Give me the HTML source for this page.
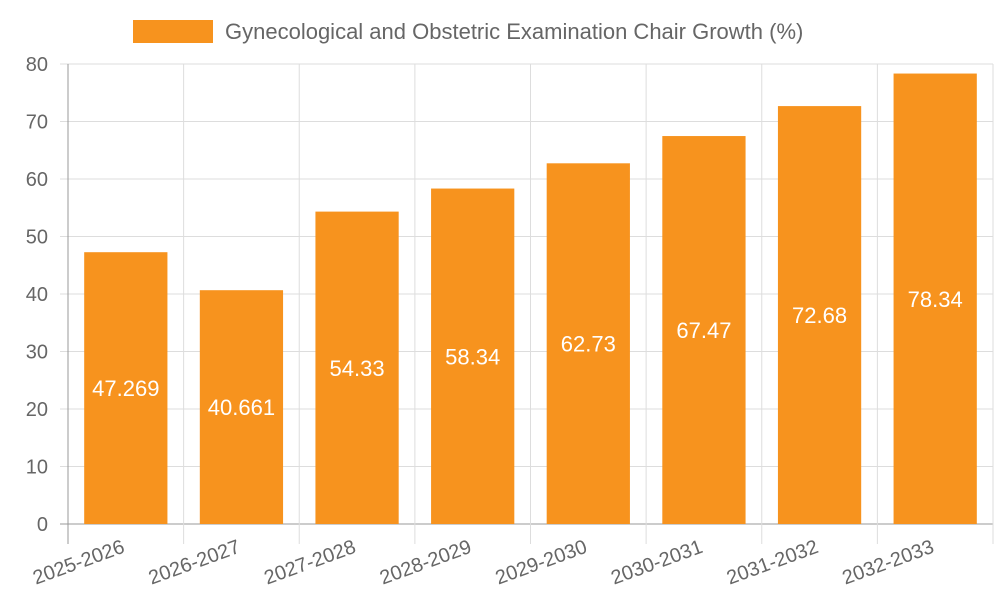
<!DOCTYPE html>
<html><head><meta charset="utf-8"><style>
body{margin:0;background:#fff;}
svg{display:block;font-family:"Liberation Sans",sans-serif;}
</style></head><body>
<svg id="chart" width="1000" height="600">
<g id="grid"></g>
<g id="bars"></g>
<g id="axes"></g>
<g>
<rect x="133" y="20" width="80" height="23" fill="#f7931e"/>
<text x="225" y="39" font-size="22" fill="#666">Gynecological and Obstetric Examination Chair Growth (%)</text>
</g>
</svg>
<script>
const categories=["2025-2026","2026-2027","2027-2028","2028-2029","2029-2030","2030-2031","2031-2032","2032-2033"];
const values=[47.269,40.661,54.33,58.34,62.73,67.47,72.68,78.34];
const labels=["47.269","40.661","54.33","58.34","62.73","67.47","72.68","78.34"];
const yTicks=[0,10,20,30,40,50,60,70,80];
const NS="http://www.w3.org/2000/svg";
const X0=68,X1=993,Y0=524,Y1=64,YMAX=80;
const bw=(X1-X0)/categories.length;
const y=v=>Y0-(v/YMAX)*(Y0-Y1);
const xs=i=>X0+i*bw;
function mk(t,a,p){const e=document.createElementNS(NS,t);for(const k in a)e.setAttribute(k,a[k]);p.appendChild(e);return e;}
const grid=document.getElementById('grid'),bars=document.getElementById('bars'),axes=document.getElementById('axes');
yTicks.forEach(v=>{
  const l=mk('line',{x1:X0-8,x2:X1,y1:y(v),y2:y(v),stroke:v===0?'#999':'#ddd','stroke-width':1},grid);
  
  
  const t=mk('text',{x:X0-20,y:y(v)+7,'text-anchor':'end','font-size':20,fill:'#666'},axes);
  t.textContent=v;
  
  
});
for(let i=0;i<=categories.length;i++){
  const l=mk('line',{x1:xs(i),x2:xs(i),y1:Y1,y2:Y0+20,stroke:i===0?'#999':'#ddd','stroke-width':1},grid);
  
  
}
categories.forEach((c,i)=>{
  const cx=xs(i)+bw/2,w=bw*0.72;
  const r=mk('rect',{x:cx-w/2,y:y(values[i]),width:w,height:Y0-y(values[i]),fill:'#f7931e'},bars);
  
  
  const vt=mk('text',{x:cx,y:(y(values[i])+Y0)/2+8,'text-anchor':'middle','font-size':22,fill:'#fff'},bars);
  vt.textContent=labels[i];
  
  
  const xt=mk('text',{x:cx,y:Y0+28,'text-anchor':'end','font-size':20,fill:'#666',transform:`rotate(-20 ${cx} ${Y0+28})`},axes);
  xt.textContent=c;
  
  
});
</script>
</body></html>
